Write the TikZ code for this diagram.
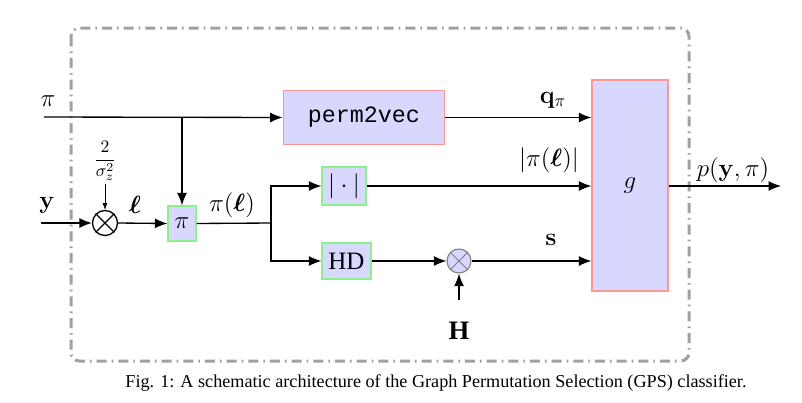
\RequirePackage{fix-cm}
\documentclass[tikz,border=0pt]{standalone}
\usepackage[no-math]{fontspec}
\setmainfont{Liberation Serif}
\setmonofont{Liberation Mono}
\usepackage{amsmath,bm}
\usetikzlibrary{arrows.meta}
\definecolor{boxfill}{RGB}{216,216,255}
\definecolor{redb}{RGB}{255,150,150}
\definecolor{greenb}{RGB}{140,240,140}
\definecolor{framec}{RGB}{160,160,160}
\begin{document}
\begin{tikzpicture}[x=0.6pt,y=-0.6pt,
  redbox/.style={draw=redb,fill=boxfill,line width=0.7pt,inner sep=0pt},
  greenbox/.style={draw=greenb,fill=boxfill,line width=0.7pt,inner sep=0pt},
  arr/.style={-{Latex[length=7.5pt,width=6pt]},line width=0.8pt},
  ln/.style={line width=0.8pt},
  lbl/.style={font=\fontsize{15}{17}\selectfont,inner sep=0pt}]
\fill[white] (0,0) rectangle (802,403);
\useasboundingbox (0,0) rectangle (802,403);
\draw[framec,line width=1.8pt,dash pattern=on 6pt off 3pt on 1pt off 3pt,rounded corners=5pt] (71,28) rectangle (689,361);
% nodes
\node[redbox,minimum width=97pt,minimum height=32pt] (p2v) at (364,117.5) {\fontsize{14}{14}\selectfont\ttfamily perm2vec};
\node[redbox,minimum width=45.6pt,minimum height=126.6pt,lbl] (g) at (630,185.5) {$g$};
\node[greenbox,minimum width=16.8pt,minimum height=21pt,lbl] (pib) at (182,223.5) {$\pi$};
\node[greenbox,minimum width=26.4pt,minimum height=22.8pt,lbl] (abs) at (344,186) {$|\cdot|$};
\node[greenbox,minimum width=29.4pt,minimum height=21.6pt,lbl] (hd) at (346.5,261) {HD};
\node[circle,draw,line width=0.8pt,minimum size=15pt,inner sep=0pt] (m1) at (105,223) {};
\draw[line width=0.7pt] (m1.north west) -- (m1.south east) (m1.north east) -- (m1.south west);
\node[circle,draw=gray,fill=boxfill,line width=0.7pt,minimum size=14.4pt,inner sep=0pt] (m2) at (459,261) {};
\draw[gray,line width=0.6pt] (m2.north west) -- (m2.south east) (m2.north east) -- (m2.south west);
% coordinates
\coordinate (piin) at (44,117);
\coordinate (yin) at (41,223);
\coordinate (jpi) at (182,117);
\coordinate (jsplit) at (271,223);
\coordinate (out) at (781,186);
\coordinate (Hs) at (459,300);
% labels
\node[lbl] (lpi) at (48,101) {$\pi$};
\node[lbl] (ly) at (47,205) {$\mathbf{y}$};
\node[font=\fontsize{10.5}{12}\selectfont,inner sep=0pt] (lsig) at (105,161) {$\dfrac{2}{\sigma_z^2}$};
\node[lbl] (lell) at (135,205) {$\bm{\ell}$};
\node[lbl] (lpil) at (232,205) {$\pi(\bm{\ell})$};
\node[lbl] (lq) at (553,100) {$\mathbf{q}_\pi$};
\node[lbl] (labs) at (549,160) {$|\pi(\bm{\ell})|$};
\node[lbl] (ls) at (551,240) {$\mathbf{s}$};
\node[lbl] (lp) at (733,170) {$p(\mathbf{y},\pi)$};
\node[lbl,font=\fontsize{16}{18}\selectfont\bfseries] (lH) at (459,331) {H};
% connectors
\draw[arr] (piin) -- (p2v.west);
\draw[arr] (jpi) -- (pib.north);
\draw[arr] (yin) -- (m1.west);
\draw[-{Latex[length=4pt,width=3pt]},line width=0.4pt,shorten <=2pt] (lsig.south) -- (m1.north);
\draw[arr] (m1.east) -- (pib.west);
\draw[ln] (pib.east) -- (jsplit);
\draw[arr] (jsplit) |- (abs.west);
\draw[arr] (jsplit) |- (hd.west);
\draw[arr] (hd.east) -- (m2.west);
\draw[arr] (Hs) -- (m2.south);
\draw[arr] (p2v.east) -- (p2v.east -| g.west);
\draw[arr] (abs.east) -- (abs.east -| g.west);
\draw[arr] (m2.east) -- (m2.east -| g.west);
\draw[arr] (g.east |- out) -- (out);
% caption
\node[font=\fontsize{10.9}{13}\selectfont,inner sep=0pt] (cap) at (436,383) {Fig. 1: A schematic architecture of the Graph Permutation Selection (GPS) classifier.};
\end{tikzpicture}
\end{document}
